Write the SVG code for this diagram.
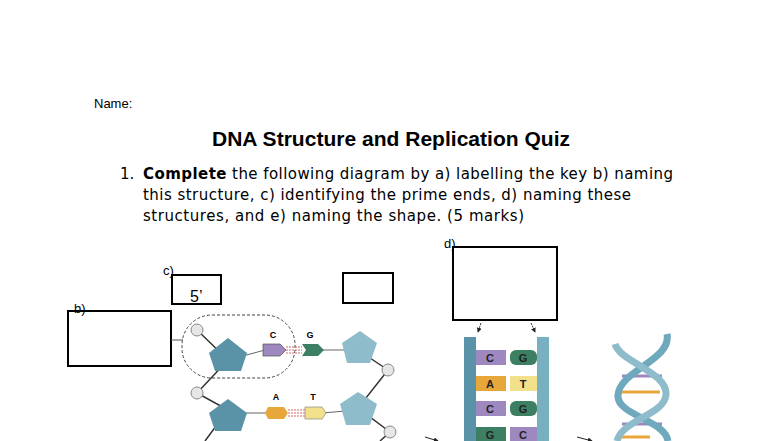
<svg xmlns="http://www.w3.org/2000/svg" width="784" height="441" viewBox="0 0 784 441">
<style>
.t{font-family:"DejaVu Sans",sans-serif;font-size:15px;fill:#000}
.s{font-family:"Liberation Sans",sans-serif;font-size:13px;fill:#000}
.box{fill:#fff;stroke:#000;stroke-width:2}
.dk{fill:#5a93a8}
.lt{fill:#8ebccb}
.ph{fill:#e6e6e6;stroke:#888;stroke-width:1}
.ln{stroke:#333;stroke-width:1.5;fill:none}
.bl{font-family:"Liberation Sans",sans-serif;font-size:9px;font-weight:bold;fill:#000;text-anchor:middle}
.rl{font-family:"Liberation Sans",sans-serif;font-size:11px;font-weight:bold;fill:#222;text-anchor:middle}
</style>
<defs><marker id="ah" viewBox="0 0 6 6" refX="5" refY="3" markerWidth="5" markerHeight="5" orient="auto"><path d="M0,0 L6,3 L0,6z" fill="#222"/></marker></defs>
<rect width="784" height="441" fill="#fff"/>
<text class="s" x="94" y="108">Name:</text>
<text x="391" y="146" text-anchor="middle" textLength="358" style="font-family:'Liberation Sans',sans-serif;font-size:21px;font-weight:bold">DNA Structure and Replication Quiz</text>
<text class="t" x="120" y="179">1.</text>
<text class="t" x="143" y="179" textLength="530"><tspan font-weight="bold">Complete</tspan> the following diagram by a) labelling the key b) naming</text>
<text class="t" x="143" y="200" textLength="488">this structure, c) identifying the prime ends, d) naming these</text>
<text class="t" x="143" y="221" textLength="381">structures, and e) naming the shape. (5 marks)</text>
<g id="b"><text class="s" x="74" y="313" font-size="12">b)</text><rect x="68" y="311" width="103" height="55" fill="none" stroke="#000" stroke-width="2"/></g>
<g id="c"><text class="s" x="163" y="275" font-size="12">c)</text><rect class="box" x="172" y="275" width="49" height="29"/><text x="190" y="302" style="font-family:'Liberation Sans',sans-serif;font-size:16px">5’</text></g>
<g id="box2"><rect class="box" x="343" y="273" width="50" height="30"/></g>
<g id="d"><text class="s" x="444" y="248" font-size="12">d)</text><rect class="box" x="453" y="247" width="104" height="73"/></g>
<g id="connectors">
<line x1="171" y1="340" x2="183" y2="340" stroke="#555"/>
<line x1="481" y1="323" x2="478" y2="332" stroke="#333" stroke-dasharray="2,1" marker-end="url(#ah)"/>
<line x1="531" y1="323" x2="535" y2="332" stroke="#333" stroke-dasharray="2,1" marker-end="url(#ah)"/>
<line x1="425" y1="437" x2="438" y2="441" stroke="#222" marker-end="url(#ah)"/>
<line x1="577" y1="437" x2="592" y2="441" stroke="#222" marker-end="url(#ah)"/>
</g>
<g id="nucleotides">
<rect x="182" y="315" width="113" height="63" rx="30" fill="none" stroke="#444" stroke-dasharray="3,2"/>
<path class="ln" d="M197,330 L228,360 L197,393 L228,410 L205,441"/>
<path class="ln" d="M388,370 L358,350 M388,370 L358,408 L390,432 L380,441"/>
<line x1="228" y1="360" x2="265" y2="350" stroke="#666"/>
<line x1="228" y1="413" x2="268" y2="413" stroke="#666"/>
<line x1="320" y1="350" x2="358" y2="350" stroke="#666"/>
<line x1="322" y1="413" x2="358" y2="410" stroke="#666"/>
<circle class="ph" cx="197" cy="330" r="6"/><circle class="ph" cx="197" cy="393" r="6"/>
<circle class="ph" cx="388" cy="370" r="6"/><circle class="ph" cx="390" cy="432" r="6"/>
<polygon class="dk" points="228,338 247,353 241,371 215,371 209,353"/>
<polygon class="dk" points="228,399 247,413 241,431 215,431 209,413"/>
<polygon class="lt" points="360,331 377,343 370,363 347,363 342,343"/>
<polygon class="lt" points="358,392 377,404 370,425 346,425 340,404"/>
<polygon points="263,344 280,344 286,350 280,356 263,356" fill="#9d88c0" stroke="#555" stroke-width=".7"/>
<polygon points="302,344 318,344 324,350 318,356 302,356 306,350" fill="#3c7f62"/>
<path d="M286,347 H302 M286,350 H302 M286,353 H302" stroke="#d06a6a" stroke-dasharray="2,1"/>
<text class="bl" x="273" y="338">C</text><text class="bl" x="310" y="338">G</text>
<polygon points="268,407 284,407 288,413 284,419 268,419 265,413" fill="#e8a73a"/>
<polygon points="305,407 322,407 326,413 322,419 305,419" fill="#f3e08a" stroke="#888" stroke-width=".7"/>
<path d="M288,410 H305 M288,413 H305 M288,416 H305" stroke="#d06a6a" stroke-dasharray="2,1"/>
<text class="bl" x="276" y="400">A</text><text class="bl" x="313" y="400">T</text>
</g>
<g id="ladder">
<rect class="dk" x="464" y="337" width="12" height="104"/>
<rect fill="#78b0c1" x="537" y="337" width="12" height="104"/>
<rect x="476" y="350" width="30" height="15" fill="#9d88c0"/><rect x="510" y="350" width="27" height="15" rx="6" fill="#3c7f62"/>
<rect x="476" y="376" width="30" height="15" fill="#e8a73a"/><rect x="510" y="376" width="27" height="15" fill="#f3e08a"/>
<rect x="476" y="401" width="30" height="15" fill="#9d88c0"/><rect x="510" y="401" width="27" height="15" rx="6" fill="#3c7f62"/>
<rect x="476" y="427" width="30" height="14" fill="#3c7f62"/><rect x="510" y="427" width="27" height="14" fill="#9d88c0"/>
<text class="rl" x="490" y="362">C</text><text class="rl" x="523" y="362">G</text>
<text class="rl" x="490" y="388">A</text><text class="rl" x="523" y="388">T</text>
<text class="rl" x="490" y="413">C</text><text class="rl" x="523" y="413">G</text>
<text class="rl" x="490" y="439">G</text><text class="rl" x="523" y="439">C</text>
</g>
<g id="helix">
<line x1="622" y1="376" x2="662" y2="376" stroke="#9d88c0" stroke-width="3"/>
<line x1="618" y1="392" x2="660" y2="392" stroke="#e8a73a" stroke-width="3"/>
<line x1="622" y1="424" x2="662" y2="424" stroke="#9d88c0" stroke-width="3"/>
<line x1="618" y1="437" x2="650" y2="437" stroke="#e8a73a" stroke-width="3"/>
<path d="M667,334 C672,360 620,370 618,395 C616,415 665,420 668,441" fill="none" stroke="#6ea9bd" stroke-width="7"/>
<path d="M615,344 C620,362 668,372 666,395 C664,415 622,420 617,441" fill="none" stroke="#8ebccb" stroke-width="7"/>
</g>
</svg>
